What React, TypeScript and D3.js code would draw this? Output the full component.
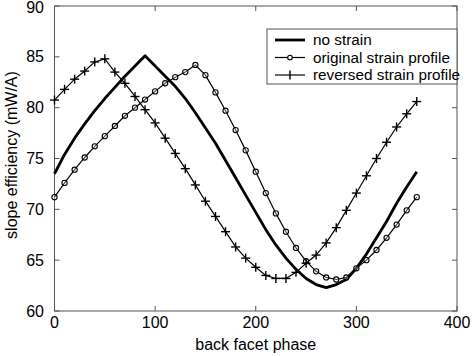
import React from "react";
import * as d3 from "d3";

const phases = d3.range(0, 361, 10);
const noStrain = [73.5, 75.4, 77.0, 78.4, 79.7, 80.9, 82.0, 83.1, 84.1, 85.1, 84.1, 83.1, 82.1, 80.9, 79.5, 78.0, 76.5, 74.8, 73.1, 71.4, 69.7, 68.0, 66.5, 65.2, 64.1, 63.2, 62.6, 62.3, 62.6, 63.1, 64.2, 65.6, 67.2, 68.8, 70.6, 72.2, 73.7];
const original = [71.2, 72.6, 73.9, 75.1, 76.2, 77.2, 78.2, 79.2, 80.0, 80.8, 81.6, 82.4, 83.0, 83.5, 84.2, 83.2, 81.5, 79.7, 77.8, 75.8, 73.7, 71.6, 69.6, 67.8, 66.2, 64.9, 63.9, 63.3, 63.1, 63.3, 64.2, 65.0, 66.0, 67.2, 68.5, 69.9, 71.2];
const reversed = [80.75, 81.8, 82.8, 83.6, 84.5, 84.8, 83.5, 82.4, 81.1, 79.8, 78.5, 77.0, 75.5, 74.0, 72.4, 70.8, 69.3, 67.8, 66.3, 65.2, 64.3, 63.5, 63.2, 63.2, 63.8, 64.7, 65.5, 66.7, 68.2, 69.9, 71.6, 73.3, 75.0, 76.6, 78.1, 79.4, 80.6];
const xTicks = [0, 100, 200, 300, 400];
const yTicks = [60, 65, 70, 75, 80, 85, 90];
const legendLabels = ["no strain", "original strain profile", "reversed strain profile"];

const W = 474, H = 356;
const L = 54.5, R = 457, T = 6, B = 311;
const FONT = "Liberation Sans, Arial, sans-serif";

export default function App() {
  const x = d3.scaleLinear().domain([0, 400]).range([L, R]);
  const y = d3.scaleLinear().domain([60, 90]).range([B, T]);
  const line = d3.line<[number, number]>().x(d => x(d[0])).y(d => y(d[1]));
  const pts = (vals: number[]) => phases.map((p, i) => [p, vals[i]] as [number, number]);
  const tk = 5;
  const ps = 4.5;
  return (
    <svg width={W} height={H} style={{ position: "absolute", left: 0, top: 0, background: "#fff" }} fontFamily={FONT}>
      <rect x={0} y={0} width={W} height={H} fill="#fff" />
      {xTicks.map(t => (
        <g key={"x" + t}>
          <line x1={x(t)} x2={x(t)} y1={B} y2={B - tk} stroke="#555" />
          <line x1={x(t)} x2={x(t)} y1={T} y2={T + tk} stroke="#555" />
          <text x={x(t)} y={328} fontSize={16} textAnchor="middle" fill="#000">{t}</text>
        </g>
      ))}
      {yTicks.map(t => (
        <g key={"y" + t}>
          <line x1={L} x2={L + tk} y1={y(t)} y2={y(t)} stroke="#555" />
          <line x1={R} x2={R - tk} y1={y(t)} y2={y(t)} stroke="#555" />
          <text x={44} y={Math.max(y(t) + 5.5, 12.5)} fontSize={16} textAnchor="end" fill="#000">{t}</text>
        </g>
      ))}
      <rect x={L} y={T} width={R - L} height={B - T} fill="none" stroke="#555" strokeWidth={1} />
      <path d={line(pts(noStrain)) || ""} fill="none" stroke="#000" strokeWidth={2.8} strokeLinejoin="round" />
      <path d={line(pts(original)) || ""} fill="none" stroke="#000" strokeWidth={1.2} />
      {pts(original).map((d, i) => (
        <circle key={"c" + i} cx={x(d[0])} cy={y(d[1])} r={2.6} fill="#fff" fillOpacity={0.3} stroke="#000" strokeWidth={1.1} />
      ))}
      <path d={line(pts(reversed)) || ""} fill="none" stroke="#000" strokeWidth={1.2} />
      {pts(reversed).map((d, i) => (
        <g key={"p" + i} stroke="#000" strokeWidth={1.4}>
          <line x1={x(d[0]) - ps} x2={x(d[0]) + ps} y1={y(d[1])} y2={y(d[1])} />
          <line x1={x(d[0])} x2={x(d[0])} y1={y(d[1]) - ps} y2={y(d[1]) + ps} />
        </g>
      ))}
      <rect x={267} y={29} width={R - 267} height={55} fill="#fff" stroke="#555" strokeWidth={1} />
      {legendLabels.map((lab, i) => {
        const ly = 40 + i * 17.5;
        return (
          <g key={lab}>
            <line x1={275} x2={305} y1={ly} y2={ly} stroke="#000" strokeWidth={i === 0 ? 2.8 : 1.2} />
            {i === 1 && <circle cx={290} cy={ly} r={2.3} fill="#fff" stroke="#000" strokeWidth={1.1} />}
            {i === 2 && <line x1={290} x2={290} y1={ly - ps} y2={ly + ps} stroke="#000" strokeWidth={1.4} />}
            <text x={313} y={ly + 5} fontSize={15.3} fill="#000">{lab}</text>
          </g>
        );
      })}
      <text x={(L + R) / 2} y={350} fontSize={16} textAnchor="middle" fill="#000">back facet phase</text>
      <text transform={`translate(17, 155) rotate(-90)`} fontSize={16} textAnchor="middle" fill="#000">slope efficiency (mW/A)</text>
    </svg>
  );
}
